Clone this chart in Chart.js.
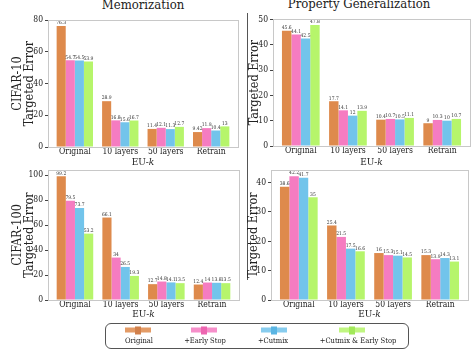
<!DOCTYPE html>
<html>
<head>
<meta charset="utf-8">
<script src="https://cdn.jsdelivr.net/npm/chart.js@4.4.0/dist/chart.umd.min.js"></script>
<style>
  body { margin: 0; background: #fff; width: 474px; height: 361px; overflow: hidden; position: relative;
         font-family: "DejaVu Serif Condensed", "DejaVu Serif", serif; color: #222; }
  canvas { position: absolute; left: 0; top: 0; }
  .title { position: absolute; font-size: 13px; white-space: nowrap; transform: translateX(-50%); line-height: 13px; }
  #sep { position: absolute; left: 247px; top: 13px; width: 1px; height: 267px; background: #555; }
  #legend { position: absolute; left: 105px; top: 323px; width: 302px; height: 24px; border: 1px solid #555; border-radius: 6px; }
  .mk { position: absolute; width: 26px; height: 5px; transform: translate(-50%, -50%); }
  .mk i { position: absolute; left: 10px; top: -1.5px; width: 6px; height: 8px; }
  .lt { position: absolute; font-size: 7.5px; white-space: nowrap; transform: translate(-50%, -50%); }
</style>
</head>
<body>
<div class="title" style="left:143px; top:-2px;">Memorization</div>
<div class="title" style="left:359px; top:-3px;">Property Generalization</div>
<div id="sep"></div>
<canvas id="tl" width="474" height="361"></canvas>
<canvas id="tr" width="474" height="361"></canvas>
<canvas id="bl" width="474" height="361"></canvas>
<canvas id="br" width="474" height="361"></canvas>
<div id="legend"></div>
<script>
const categories = ["Original", "10 layers", "50 layers", "Retrain"];
const seriesNames = ["Original", "+Early Stop", "+Cutmix", "+Cutmix & Early Stop"];
const seriesColors = ["#de8a4c", "#f57cc1", "#72c4eb", "#b6f56b"];
const markerColors = ["#c96a2c", "#ea4aa3", "#3ea8de", "#92e63e"];

// values per series, in category order
const memC10 = [
  [76.3, 28.9, 11.4, 9.42],
  [54.7, 16.8, 12.1, 11.9],
  [54.5, 15.6, 11.3, 10.4],
  [53.9, 16.7, 12.7, 13]
];
const propC10 = [
  [45.6, 17.7, 10.4, 9],
  [44.1, 14.1, 10.7, 10.3],
  [42.5, 12, 10.5, 10],
  [47.8, 13.9, 11.1, 10.7]
];
const memC100 = [
  [99.2, 66.1, 12.7, 12.4],
  [79.5, 34, 14.8, 14],
  [73.7, 26.5, 14.1, 13.8],
  [53.2, 19.3, 13.5, 13.5]
];
const propC100 = [
  [38.6, 25.4, 16, 15.3],
  [42.2, 21.5, 15.3, 13.9],
  [41.7, 17.5, 15.1, 14.3],
  [35, 16.6, 14.5, 13.1]
];

const ticksMemC10 = [0, 20, 40, 60, 80];
const ticksPropC10 = [0, 10, 20, 30, 40, 50];
const ticksMemC100 = [0, 20, 40, 60, 80, 100];
const ticksPropC100 = [0, 10, 20, 30, 40];

const FONT = '"DejaVu Serif Condensed", "DejaVu Serif", serif';
const Y_AXIS_W = 24;
const X_AXIS_H = 20;

// frame, axis titles and value labels
const decor = {
  id: 'decor',
  afterDatasetsDraw(chart, args, o) {
    const ctx = chart.ctx;
    ctx.save();
    ctx.fillStyle = '#333';
    ctx.font = '5px ' + FONT;
    ctx.textAlign = 'center';
    ctx.textBaseline = 'bottom';
    chart.data.datasets.forEach((ds, i) => {
      chart.getDatasetMeta(i).data.forEach((bar, j) => {
        ctx.fillText(String(ds.data[j].y), bar.x, bar.y - 0.5);
      });
    });
    ctx.restore();
  },
  afterDraw(chart, args, o) {
    const ctx = chart.ctx;
    const a = chart.chartArea;
    ctx.save();
    ctx.strokeStyle = '#c8c8c8';
    ctx.lineWidth = 1;
    ctx.strokeRect(Math.round(a.left) + 0.5, Math.round(a.top) + 0.5, Math.round(a.right - a.left), Math.round(a.bottom - a.top));
    ctx.fillStyle = '#222';
    ctx.font = '12.5px ' + FONT;
    ctx.textAlign = 'center';
    ctx.textBaseline = 'middle';
    o.yTitle.forEach((t, i) => {
      ctx.save();
      ctx.translate(o.yTitleX[i], (a.top + a.bottom) / 2);
      ctx.rotate(-Math.PI / 2);
      ctx.fillText(t, 0, 0);
      ctx.restore();
    });
    // "EU-k" with italic k
    const cx = (a.left + a.right) / 2;
    ctx.font = '10px ' + FONT;
    const w1 = ctx.measureText('EU-').width;
    ctx.font = 'italic 10px ' + FONT;
    const w2 = ctx.measureText('k').width;
    ctx.textAlign = 'left';
    ctx.font = '10px ' + FONT;
    ctx.fillText('EU-', cx - (w1 + w2) / 2, o.xTitleY);
    ctx.font = 'italic 10px ' + FONT;
    ctx.fillText('k', cx - (w1 + w2) / 2 + w1, o.xTitleY);
    ctx.restore();
  }
};

function makePanel(id, values, yTicks, yMax, box, yTitle, yTitleX, xTitleY) {
  const datasets = values.map((vals, s) => ({
    label: seriesNames[s],
    data: vals.map((v, i) => ({ x: i, y: v })),
    backgroundColor: seriesColors[s],
    borderWidth: 0,
    categoryPercentage: 0.8,
    barPercentage: 1
  }));
  new Chart(document.getElementById(id), {
    type: 'bar',
    data: { datasets },
    plugins: [decor],
    options: {
      responsive: false,
      animation: false,
      events: [],
      layout: { padding: { left: box[0] - Y_AXIS_W, top: box[1], right: 474 - box[2], bottom: 361 - box[3] - X_AXIS_H } },
      plugins: {
        legend: { display: false },
        tooltip: { enabled: false },
        decor: { yTitle, yTitleX, xTitleY }
      },
      scales: {
        x: {
          type: 'linear',
          offset: false,
          min: -0.59,
          max: 3.59,
          afterFit(s) { s.height = X_AXIS_H; },
          afterBuildTicks(s) { s.ticks = categories.map((c, i) => ({ value: i })); },
          ticks: { callback: v => categories[v], color: '#222', font: { family: FONT, size: 8.5 }, padding: 0, maxRotation: 0, autoSkip: false },
          grid: { display: false, drawTicks: false, tickLength: 0, offset: false },
          border: { display: false }
        },
        y: {
          min: 0,
          max: yMax,
          afterFit(s) { s.width = Y_AXIS_W; },
          afterBuildTicks(s) { s.ticks = yTicks.map(v => ({ value: v })); },
          ticks: { color: '#222', font: { family: FONT, size: 8.5 }, padding: 2 },
          grid: { drawOnChartArea: false, color: '#444', tickLength: 3 },
          border: { display: false }
        }
      }
    }
  });
}

makePanel('tl', memC10, ticksMemC10, 80.1, [48, 20, 238, 147], ['CIFAR-10', 'Targeted Error'], [18, 30], 162);
makePanel('tr', propC10, ticksPropC10, 50.2, [273, 19, 470, 146], ['Targeted Error'], [255], 162);
makePanel('bl', memC100, ticksMemC100, 104.2, [48, 170, 239, 300], ['CIFAR-100', 'Targeted Error'], [18, 30], 314);
makePanel('br', propC100, ticksPropC100, 44.3, [271, 170, 468, 300], ['Targeted Error'], [254], 314);

// legend
const legend = document.getElementById('legend');
const markerX = [32, 98, 168, 246];
const textX = [33, 99, 167, 252];
seriesNames.forEach((name, i) => {
  const m = document.createElement('div');
  m.className = 'mk';
  m.style.left = markerX[i] + 'px';
  m.style.top = '6px';
  m.style.background = seriesColors[i];
  m.style.opacity = '0.85';
  const sq = document.createElement('i');
  sq.style.background = markerColors[i];
  m.appendChild(sq);
  legend.appendChild(m);
  const t = document.createElement('div');
  t.className = 'lt';
  t.style.left = textX[i] + 'px';
  t.style.top = '16px';
  t.textContent = name;
  legend.appendChild(t);
});
</script>
</body>
</html>
